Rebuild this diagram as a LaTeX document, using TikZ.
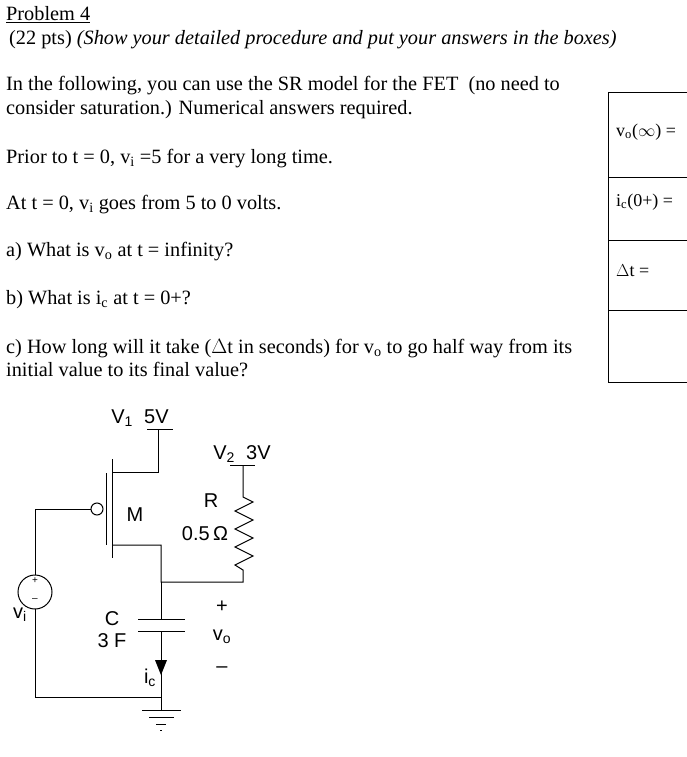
\documentclass[tikz,border=0pt]{standalone}
\usepackage{fontspec}
\setmainfont{Liberation Serif}
\newfontfamily\arial{Liberation Sans}
\begin{document}
\begin{tikzpicture}[x=1pt,y=-1pt,
  txt/.style={anchor=base west,inner sep=0pt,font=\fontsize{20.3}{24}\selectfont},
  ck/.style={inner sep=0pt,font=\arial\fontsize{20}{22}\selectfont},
  wire/.style={line width=1pt},
  box/.style={line width=0.8pt}]
\useasboundingbox (0,0) rectangle (687,757);
% text
\node[txt] (t1) at (6,21) {\underline{Problem 4}};
\node[txt] (t2) at (9,45) {(22 pts) \textit{(Show your detailed procedure and put your answers in the boxes)}};
\node[txt] (t3) at (6,91) {In the following, you can use the SR model for the FET\ \ (no need to};
\node[txt] (t4) at (6,114) {consider saturation.) Numerical answers required.};
\node[txt] (t5) at (6,163) {Prior to t = 0, v\textsubscript{i} =5 for a very long time.};
\node[txt] (t6) at (6,209) {At t = 0, v\textsubscript{i} goes from 5 to 0 volts.};
\node[txt] (t7) at (6,256) {a) What is v\textsubscript{o} at t = infinity?};
\node[txt] (t8) at (6,304) {b) What is i\textsubscript{c} at t = 0+?};
\node[txt] (t9) at (6,353) {c) How long will it take ($\Delta$t in seconds) for v\textsubscript{o} to go half way from its};
\node[txt] (t10) at (6,376) {initial value to its final value?};
% table
\draw[box] (608,92) -- (687,92) (608,177) -- (687,177) (608,240) -- (687,240) (608,310) -- (687,310) (608,382) -- (687,382) (608,92) -- (608,382);
\node[txt,font=\fontsize{18}{20}\selectfont] (b1) at (616,136) {v\textsubscript{o}($\infty$) =};
\node[txt,font=\fontsize{18}{20}\selectfont] (b2) at (616,206) {i\textsubscript{c}(0+) =};
\node[txt,font=\fontsize{18}{20}\selectfont] (b3) at (616,276) {$\Delta$t =};
% circuit
\coordinate (v1a) at (147,429); \coordinate (v1b) at (173,429);
\coordinate (v1) at (158,429); \coordinate (d) at (158,472); \coordinate (dch) at (112,472);
\coordinate (sch) at (112,545); \coordinate (s) at (161,545); \coordinate (n) at (161,582);
\coordinate (rb) at (243,582); \coordinate (v2) at (243,465);
\coordinate (cp1) at (161,619); \coordinate (cp2) at (161,631); \coordinate (gnd) at (161,697);
\coordinate (g0) at (161,710); \coordinate (gw) at (35,509); \coordinate (gb) at (91,509);
\coordinate (vsrc) at (35,592); \coordinate (vb) at (35,697);
\draw[wire] (v1a) -- (v1b) (v1) -- (d) -- (dch);
\draw[wire] (112,459) -- (112,558);
\draw[wire] (106,473) -- (106,545);
\draw[wire] (97,509) circle (6);
\draw[wire] (gb) -- (gw) -- (35,575);
\draw[wire] (vsrc) circle (17);
\draw[wire] (35,609) -- (vb) -- (gnd);
\draw[wire] (sch) -- (s) -- (n) -- (rb) -- (243,570) -- (235,565) -- (253,556) -- (235,547) -- (253,538) -- (235,529) -- (253,520) -- (235,511) -- (253,502) -- (243,497) -- (v2);
\draw[wire] (230,465) -- (255,465);
\draw[wire] (n) -- (cp1) (138,619) -- (185,619) (138,631) -- (185,631) (cp2) -- (g0);
\fill (155,660) -- (167,660) -- (161,675) -- cycle;
\draw[wire] (142,710) -- (181,710) (149,717) -- (174,717) (156,724) -- (166,724) (160,730) -- (162,730);
% labels
\node[ck,anchor=base] (lv1) at (140,423) {V\textsubscript{1}\ \ 5V};
\node[ck,anchor=base] (lv2) at (242,459) {V\textsubscript{2}\ \ 3V};
\node[ck,anchor=base] (lr) at (211,507) {R};
\node[ck,anchor=base] (lrv) at (205,540) {0.5\,Ω};
\node[ck,anchor=base] (lm) at (135,521) {M};
\node[ck,font=\arial\fontsize{10}{10}\selectfont] (pl) at (35,581) {+};
\node[ck,font=\arial\fontsize{10}{10}\selectfont] (mi) at (35,600) {–};
\node[ck,anchor=base] (lvi) at (20,618) {v\textsubscript{i}};
\node[ck,anchor=base] (lc) at (112,625) {C};
\node[ck,anchor=base] (lcf) at (112,647) {3 F};
\node[ck,anchor=base] (lic) at (150,683) {i\textsubscript{c}};
\node[ck] (vop) at (222,607) {+};
\node[ck,anchor=base] (vo) at (222,640) {v\textsubscript{o}};
\node[ck] (vom) at (222,670) {–};
\end{tikzpicture}
\end{document}
